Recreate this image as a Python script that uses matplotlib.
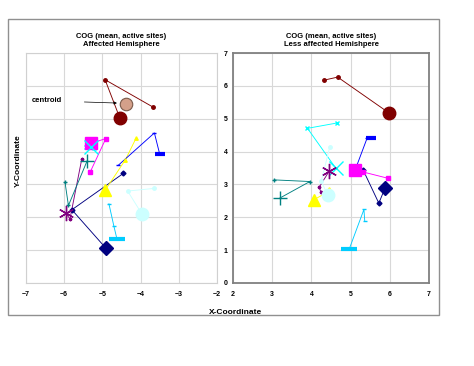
import matplotlib
matplotlib.use("Agg")
import matplotlib.pyplot as plt
from matplotlib.patches import Rectangle

plt.rcParams["font.family"] = ["Liberation Sans", "DejaVu Sans"]
plt.rcParams["font.weight"] = "bold"

# series order: navy, magenta, yellow, cyan, purple, dark red, teal, blue, sky, pale
colors = ["#000080", "#FF00FF", "#FFFF00", "#00FFFF", "#800080",
          "#800000", "#008080", "#0000FF", "#00CCFF", "#CCFFFF"]
markers = ["D", "s", "^", "x", (6, 2, 0), "o", "+", "_", "_", "o"]
big_sizes = [7, 8, 8, 10, 11, 9, 10, 7, 12, 9]

# Affected hemisphere (x, y), three points per series, last one = mean
aff_x = [[-4.45, -5.80, -4.91], [-5.32, -4.91, -5.30], [-4.12, -4.40, -4.92],
         [-5.42, -5.22, -5.30], [-5.54, -5.85, -5.96], [-3.68, -4.93, -4.54],
         [-5.98, -5.89, -5.40], [-4.58, -3.64, -3.50], [-4.83, -4.70, -4.62],
         [-3.65, -4.34, -3.96]]
aff_y = [[3.34, 2.23, 1.06], [3.38, 4.40, 4.25], [4.41, 3.75, 2.84],
         [4.15, 4.12, 4.15], [3.78, 1.95, 2.13], [5.36, 6.19, 5.01],
         [3.07, 2.36, 3.72], [3.59, 4.57, 3.92], [2.41, 1.73, 1.34],
         [2.88, 2.80, 2.09]]

# Less affected hemisphere
less_x = [[5.32, 5.72, 5.88], [5.95, 5.32, 5.10], [4.44, 4.37, 4.07],
          [4.64, 3.90, 4.62], [4.24, 4.20, 4.46], [4.33, 4.67, 5.99],
          [3.05, 3.96, 3.20], [5.14, 5.42, 5.52], [5.36, 5.34, 4.97],
          [4.47, 4.25, 4.42]]
less_y = [[3.44, 2.43, 2.90], [3.19, 3.38, 3.43], [2.87, 2.74, 2.54],
          [4.87, 4.71, 3.50], [2.77, 2.92, 3.42], [6.18, 6.27, 5.17],
          [3.14, 3.09, 2.59], [3.52, 4.41, 4.41], [1.89, 2.24, 1.05],
          [4.15, 3.10, 2.67]]

centroid = (-4.38, 5.45)

fig = plt.figure(figsize=(4.74, 3.66), dpi=100)
fig.patches.append(Rectangle((0.017, 0.139), 0.909, 0.809, transform=fig.transFigure,
                             fill=False, edgecolor="#909090", linewidth=1.0))

ax1 = fig.add_axes([0.0549, 0.2268, 0.403, 0.628])
ax2 = fig.add_axes([0.4916, 0.2268, 0.4135, 0.628])


def draw(ax, xs, ys):
    for i in range(len(xs)):
        ax.plot(xs[i], ys[i], color=colors[i], linewidth=0.65, zorder=2)
        ax.plot(xs[i][:2], ys[i][:2], linestyle="none", marker=markers[i],
                markersize=2.5, color=colors[i], markeredgewidth=1.0, zorder=3)
        mew = 3 if markers[i] == "_" else 1.0
        ax.plot(xs[i][2], ys[i][2], linestyle="none", marker=markers[i],
                markersize=big_sizes[i], color=colors[i], markeredgewidth=mew, zorder=4)


draw(ax1, aff_x, aff_y)
draw(ax2, less_x, less_y)

ax1.plot(*centroid, marker="o", markersize=9, markerfacecolor="#D4A08A",
         markeredgecolor="#7a5a4a", markeredgewidth=0.8, zorder=5)
ax1.annotate("centroid", xy=(-4.62, 5.48), xytext=(-6.45, 5.55),
             fontsize=5.5, fontweight="bold", va="center", ha="center",
             arrowprops=dict(arrowstyle="-|>", color="black", lw=0.5,
                             mutation_scale=4, shrinkA=14, shrinkB=0))

for ax, xlim in ((ax1, (-7, -2)), (ax2, (2, 7))):
    ax.set_xlim(*xlim)
    ax.set_ylim(0, 7)
    ax.set_xticks(range(xlim[0], xlim[1] + 1))
    ax.set_yticks(range(0, 8))
    ax.grid(True, color="#d8d8d8", linewidth=0.8)
    ax.set_axisbelow(True)
    ax.tick_params(length=0, labelsize=5, pad=6)

for s in ax1.spines.values():
    s.set_color("#d0d0d0")
    s.set_linewidth(0.8)
for s in ax2.spines.values():
    s.set_color("#808080")
    s.set_linewidth(1.3)

ax1.yaxis.tick_right()
ax1.tick_params(axis="y", pad=5)
ax2.tick_params(axis="y", labelleft=False)

ax1.set_title("COG (mean, active sites)\nAffected Hemisphere", fontsize=5.5,
              fontweight="bold", pad=5, linespacing=1.3)
ax2.set_title("COG (mean, active sites)\nLess affected Hemishpere", fontsize=5.5,
              fontweight="bold", pad=5, linespacing=1.3)

fig.text(0.496, 0.145, "X-Coordinate", fontsize=6, fontweight="bold",
         ha="center", va="center")
fig.text(0.038, 0.56, "Y-Coordinate", fontsize=6, fontweight="bold",
         ha="center", va="center", rotation=90)

fig.savefig("out.png", dpi=100)
